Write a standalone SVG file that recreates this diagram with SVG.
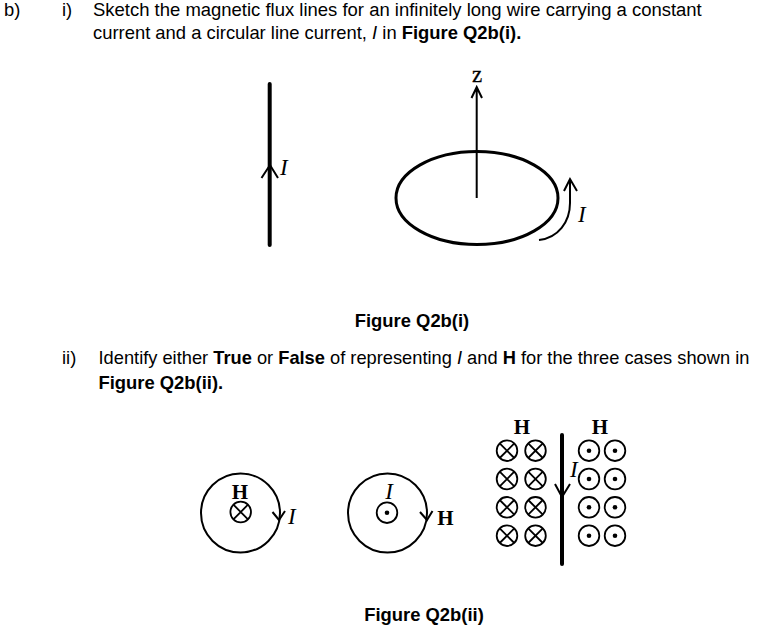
<svg xmlns="http://www.w3.org/2000/svg" width="780" height="632" viewBox="0 0 780 632">
<style>
text{fill:#000}
.s{font-family:"Liberation Sans",Arial,sans-serif;font-size:18.4px}
.s1{font-size:18.48px}
.s2{font-size:18.27px}
.b{font-weight:700}
.i{font-style:italic}
.m{font-family:"Liberation Serif","Times New Roman",serif;font-size:21px}
.mi{font-style:italic;font-size:23px}
.z{font-size:23px;stroke:#000;stroke-width:.3}
.h{font-weight:700;text-anchor:middle}
.c{text-anchor:middle}
.l{fill:none;stroke:#000;stroke-width:2}
.w{fill:none;stroke:#000;stroke-width:4;stroke-linecap:round}
.e{fill:none;stroke:#000;stroke-width:3}
.t{fill:none;stroke:#000;stroke-width:1.8}
</style>
<defs>
<g id="cross"><circle r="10.300" class="t"/><path d="M-7.300-7.300L7.300 7.300M-7.300 7.300L7.300-7.300" class="t"/></g>
<g id="dot"><circle r="10.300" class="t"/><circle r="2.300" fill="#000"/></g>
</defs>
<g id="question-text">
<text class="s" x="4" y="15.500">b)</text>
<text class="s" x="62" y="15.500">i)</text>
<text class="s s1" x="93" y="15.500">Sketch the magnetic flux lines for an infinitely long wire carrying a constant</text>
<text class="s" x="93" y="38.500">current and a circular line current, <tspan class="i">I</tspan> in <tspan class="b">Figure Q2b(i).</tspan></text>
<text class="s b c" x="412" y="327">Figure Q2b(i)</text>
<text class="s" x="62" y="364">ii)</text>
<text class="s s2" x="98.500" y="364">Identify either <tspan class="b">True</tspan> or <tspan class="b">False</tspan> of representing <tspan class="i">I</tspan> and <tspan class="b">H</tspan> for the three cases shown in</text>
<text class="s b" x="98.500" y="388.500">Figure Q2b(ii).</text>
<text class="s b c" x="424" y="620.500">Figure Q2b(ii)</text>
</g>
<g id="straight-wire">
<path class="w" d="M269.700 84V245"/>
<path class="l" d="M261.500 178L270 165L278 178"/>
<text class="m mi" x="280" y="175">I</text>
</g>
<g id="circular-loop">
<ellipse class="e" cx="477" cy="198" rx="81" ry="46.500"/>
<path class="l" d="M476.700 198V88M471.500 98L476.700 87L482 98"/>
<text class="m z c" x="477" y="82">z</text>
<path class="l" d="M539 240C558 238 570 222 570 203V180M564 191L570 179L577 191"/>
<text class="m mi" x="578" y="222">I</text>
</g>
<g id="case-1">
<circle class="l" cx="240.500" cy="513" r="39.500"/>
<use href="#cross" x="240.700" y="512"/>
<text class="m h" x="240" y="499">H</text>
<path class="l" d="M272.500 512L279 520L285 511"/>
<text class="m mi" x="288" y="524">I</text>
</g>
<g id="case-2">
<circle class="l" cx="387.500" cy="513" r="39.500"/>
<use href="#dot" x="387" y="512.700"/>
<text class="m mi c" x="389" y="499">I</text>
<path class="l" d="M420 512L427 520L432.500 511"/>
<text class="m h" x="445.500" y="525">H</text>
</g>
<g id="case-3">
<path class="w" d="M562 435V564"/>
<path class="l" d="M555 484L562 497L570 484"/>
<text class="m mi" x="570" y="477">I</text>
<text class="m h" x="522" y="434">H</text>
<text class="m h" x="600" y="434">H</text>
<use href="#cross" x="507" y="450.700"/><use href="#cross" x="535.500" y="450.700"/>
<use href="#cross" x="507" y="479"/><use href="#cross" x="535.500" y="479"/>
<use href="#cross" x="507" y="507.300"/><use href="#cross" x="535.500" y="507.300"/>
<use href="#cross" x="507" y="535.700"/><use href="#cross" x="535.500" y="535.700"/>
<use href="#dot" x="589" y="450.700"/><use href="#dot" x="615" y="450.700"/>
<use href="#dot" x="589" y="479"/><use href="#dot" x="615" y="479"/>
<use href="#dot" x="589" y="507.300"/><use href="#dot" x="615" y="507.300"/>
<use href="#dot" x="589" y="535.700"/><use href="#dot" x="615" y="535.700"/>
</g>
</svg>
